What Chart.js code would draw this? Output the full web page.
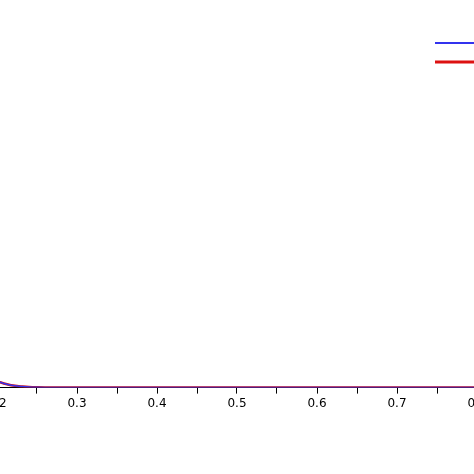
<!DOCTYPE html>
<html><head><script src="https://cdn.jsdelivr.net/npm/chart.js@4"></script>
<style>html,body{margin:0;background:#fff;overflow:hidden}#w{position:absolute;left:-40px;top:0;width:560px;height:474px}</style></head>
<body><div id="w"><canvas id="c"></canvas></div>
<script>
const xs=[0.2,0.205,0.21,0.215,0.22,0.225,0.23,0.24,0.25,0.26,0.3,0.4,0.5,0.6,0.7,0.8];
const blueY=[0.016,0.013,0.01,0.0075,0.0055,0.004,0.003,0.0015,0.0007,0.0003,0,0,0,0,0,0];
const redY=[0.016,0.013,0.01,0.0075,0.0055,0.004,0.003,0.0015,0.0007,0.0003,0,0,0,0,0,0];
const labels=['',''];
const pts=(ys)=>xs.map((x,i)=>({x,y:ys[i]}));
const legendPlugin={id:'lg',afterDraw(ch){const c=ch.ctx;const L=[[43,'#3333ee',2],[62,'#dd1111',3]];
L.forEach(([y,col,w],i)=>{c.strokeStyle=col;c.lineWidth=w;c.beginPath();c.moveTo(475,y);c.lineTo(540,y);c.stroke();c.fillStyle='#000';c.font='12px DejaVu Sans';c.fillText(labels[i],545,y+4);});}};
new Chart(document.getElementById('c'),{type:'line',data:{datasets:[
{data:pts(blueY),borderColor:'#3333ee',borderWidth:1.5,pointRadius:0,tension:0.4},
{data:pts(redY),borderColor:'#dd1111',borderWidth:2.5,pointRadius:0,tension:0.4}]},
options:{animation:false,responsive:true,maintainAspectRatio:false,
layout:{padding:{left:37,right:43,top:0,bottom:60}},
plugins:{legend:{display:false},tooltip:{enabled:false}},
scales:{x:{type:'linear',min:0.2,max:0.8,border:{color:'#000',width:1},grid:{display:true,drawOnChartArea:false,color:'#000',tickLength:6},
ticks:{stepSize:0.05,color:'#000',font:{family:'DejaVu Sans',size:12},maxRotation:0,callback:v=>{const r=Math.round(v*100);return r%10===0?(r/100).toFixed(1):'';}}},
y:{display:false,min:0,max:1}}},
plugins:[legendPlugin]});
</script></body></html>
